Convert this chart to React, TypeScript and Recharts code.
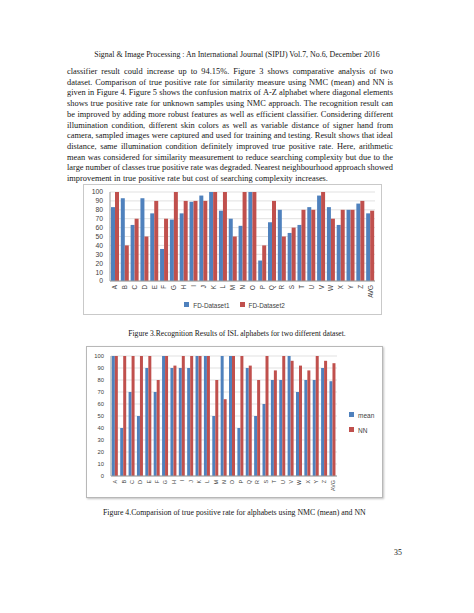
import React from 'react';
import { BarChart, Bar, XAxis, YAxis, CartesianGrid, Legend } from 'recharts';

const categories = ['A','B','C','D','E','F','G','H','I','J','K','L','M','N','O','P','Q','R','S','T','U','V','W','X','Y','Z','AVG'];
const fdDataset1 = [83,93,63,93,76,36,69,76,89,96,100,79,70,62,100,23,66,80,54,63,83,96,83,63,80,87,76];
const fdDataset2 = [100,40,70,50,90,70,100,90,90,90,100,100,50,100,100,40,90,50,60,80,80,100,70,80,80,90,79];
const meanValues = [100,40,70,50,90,70,100,90,90,90,100,100,50,100,100,40,90,50,60,80,80,100,70,80,80,90,79];
const nnValues = [100,100,100,100,100,80,100,92,100,100,100,100,80,64,100,100,92,80,100,88,100,96,92,88,100,96,94];
const yTicks = [0,10,20,30,40,50,60,70,80,90,100];

const fig3Data = categories.map((c, i) => ({ name: c, d1: fdDataset1[i], d2: fdDataset2[i] }));
const fig4Data = categories.map((c, i) => ({ name: c, mean: meanValues[i], nn: nnValues[i] }));

const headerText = 'Signal & Image Processing : An International Journal (SIPIJ) Vol.7, No.6, December 2016';
const bodyLines = [
  'classifier result could increase up to 94.15%.  Figure 3 shows comparative analysis of two',
  'dataset. Comparison of true positive rate for similarity measure using NMC (mean) and NN is',
  'given in Figure 4. Figure 5 shows the confusion matrix of A-Z alphabet where diagonal elements',
  'shows true positive rate for unknown samples using NMC approach. The recognition result can',
  'be improved by adding more robust features as well as efficient classifier. Considering different',
  'illumination condition, different skin colors as well as variable distance of signer hand from',
  'camera, sampled images were captured and used for training and testing. Result shows that ideal',
  'distance, same illumination condition definitely improved true positive rate. Here, arithmetic',
  'mean was considered for similarity measurement to reduce searching complexity but due to the',
  'large number of classes true positive rate was degraded. Nearest neighbourhood approach showed',
  'improvement in true positive rate but cost of searching complexity increases.',
];
const caption3 = 'Figure 3.Recognition Results of ISL alphabets for two different dataset.';
const caption4 = 'Figure 4.Comparision of true positive rate for alphabets using NMC (mean) and NN';
const pageNumber = '35';

const BLUE = '#4F81BD';
const RED = '#C0504D';
const SANS = '"Liberation Sans", Arial, sans-serif';
const SERIF = '"Liberation Serif", "Times New Roman", serif';
const TEXT = '#161616';

const makeRotTick = (fs: number, dy: number) => (props: any) => {
  const { x, y, payload } = props;
  const yy = y + dy;
  return (
    <text
      x={x}
      y={yy}
      transform={`rotate(-90 ${x} ${yy})`}
      textAnchor="end"
      dominantBaseline="central"
      fontSize={fs}
      fill="#404040"
      fontFamily={SANS}
    >
      {payload.value}
    </text>
  );
};

const legendFmt = (fs: number) => (value: string) => (
  <span style={{ color: '#404040', fontSize: fs, fontFamily: SANS, whiteSpace: 'nowrap' }}>{value}</span>
);

export default function App() {
  return (
    <div style={{ position: 'absolute', left: 0, top: 0, width: 474, height: 613, background: '#fff', fontFamily: SERIF, color: TEXT, overflow: 'hidden' }}>
      <div style={{ position: 'absolute', left: 0, width: 474, top: 50, height: 10, lineHeight: '10px', fontSize: 7.9, textAlign: 'center', whiteSpace: 'nowrap' }}>
        {headerText}
      </div>
      {bodyLines.map((line, i) => {
        const last = i === bodyLines.length - 1;
        const words = line.split(/\s+/);
        return (
          <div
            key={i}
            style={{
              position: 'absolute',
              left: 67,
              width: 326,
              top: 67 + i * 10.7,
              height: 10.7,
              lineHeight: '10.7px',
              fontSize: 8.4,
              whiteSpace: 'nowrap',
              display: 'flex',
              justifyContent: last ? 'flex-start' : 'space-between',
              columnGap: last ? '2.4px' : 0,
            }}
          >
            {words.map((w, j) => (
              <span key={j}>{w}</span>
            ))}
          </div>
        );
      })}

      {/* Figure 3 */}
      <div style={{ position: 'absolute', left: 83, top: 184, width: 299, height: 131, border: '1px solid #c9c9c9', boxSizing: 'border-box' }}>
        <BarChart width={297} height={129} data={fig3Data} margin={{ top: 7, right: 6, left: 0, bottom: 0 }} barCategoryGap="10%" barGap={0}>
          <CartesianGrid vertical={false} stroke="#d9d9d9" strokeWidth={0.8} />
          <YAxis
            width={26}
            domain={[0, 100]}
            ticks={yTicks}
            interval={0}
            tickLine={false}
            tickSize={5}
            tickMargin={2}
            axisLine={{ stroke: '#9a9a9a' }}
            tick={{ fontSize: 6.8, fill: '#404040', fontFamily: SANS }}
          />
          <XAxis
            dataKey="name"
            height={15}
            interval={0}
            tickLine={false}
            axisLine={{ stroke: '#9a9a9a' }}
            tick={makeRotTick(6.3, -4)}
          />
          <Legend
            verticalAlign="bottom"
            align="center"
            height={18}
            iconType="square"
            iconSize={5}
            itemSorter="dataKey"
            formatter={legendFmt(6.4)}
            wrapperStyle={{ bottom: -2, lineHeight: '10px', paddingLeft: 10 }}
          />
          <Bar dataKey="d1" name="FD-Dataset1" fill={BLUE} isAnimationActive={false} />
          <Bar dataKey="d2" name="FD-Dataset2" fill={RED} isAnimationActive={false} />
        </BarChart>
      </div>
      <div style={{ position: 'absolute', left: 0, width: 474, top: 329, height: 10, lineHeight: '10px', fontSize: 7.6, textAlign: 'center', whiteSpace: 'nowrap' }}>
        {caption3}
      </div>

      {/* Figure 4 */}
      <div style={{ position: 'absolute', left: 86, top: 346, width: 297, height: 152, border: '1px solid #b8b8b8', boxSizing: 'border-box', boxShadow: '1px 1px 2px rgba(0,0,0,0.25)' }}>
        <BarChart width={295} height={150} data={fig4Data} margin={{ top: 9, right: 0, left: 0, bottom: 0 }} barCategoryGap="10%" barGap={0}>
          <CartesianGrid vertical={false} stroke="#d9d9d9" strokeWidth={0.8} />
          <YAxis
            width={24}
            domain={[0, 100]}
            ticks={yTicks}
            interval={0}
            tickLine={false}
            tickSize={5}
            tickMargin={2}
            axisLine={{ stroke: '#9a9a9a' }}
            tick={{ fontSize: 5.8, fill: '#404040', fontFamily: SANS }}
          />
          <XAxis
            dataKey="name"
            height={21}
            interval={0}
            tickLine={false}
            axisLine={{ stroke: '#9a9a9a' }}
            tick={makeRotTick(5.4, -4)}
          />
          <Legend
            layout="vertical"
            verticalAlign="middle"
            align="right"
            width={45}
            iconType="square"
            iconSize={5}
            itemSorter="dataKey"
            formatter={legendFmt(6.5)}
            wrapperStyle={{ width: 45, paddingLeft: 12, boxSizing: 'border-box', lineHeight: '12px', whiteSpace: 'nowrap' }}
          />
          <Bar dataKey="mean" name="mean" fill={BLUE} isAnimationActive={false} />
          <Bar dataKey="nn" name="NN" fill={RED} isAnimationActive={false} />
        </BarChart>
      </div>
      <div style={{ position: 'absolute', left: 103, top: 508, height: 10, lineHeight: '10px', fontSize: 7.8, whiteSpace: 'nowrap' }}>
        {caption4}
      </div>
      <div style={{ position: 'absolute', left: 394, top: 548, height: 10, lineHeight: '10px', fontSize: 7.8 }}>
        {pageNumber}
      </div>
    </div>
  );
}
